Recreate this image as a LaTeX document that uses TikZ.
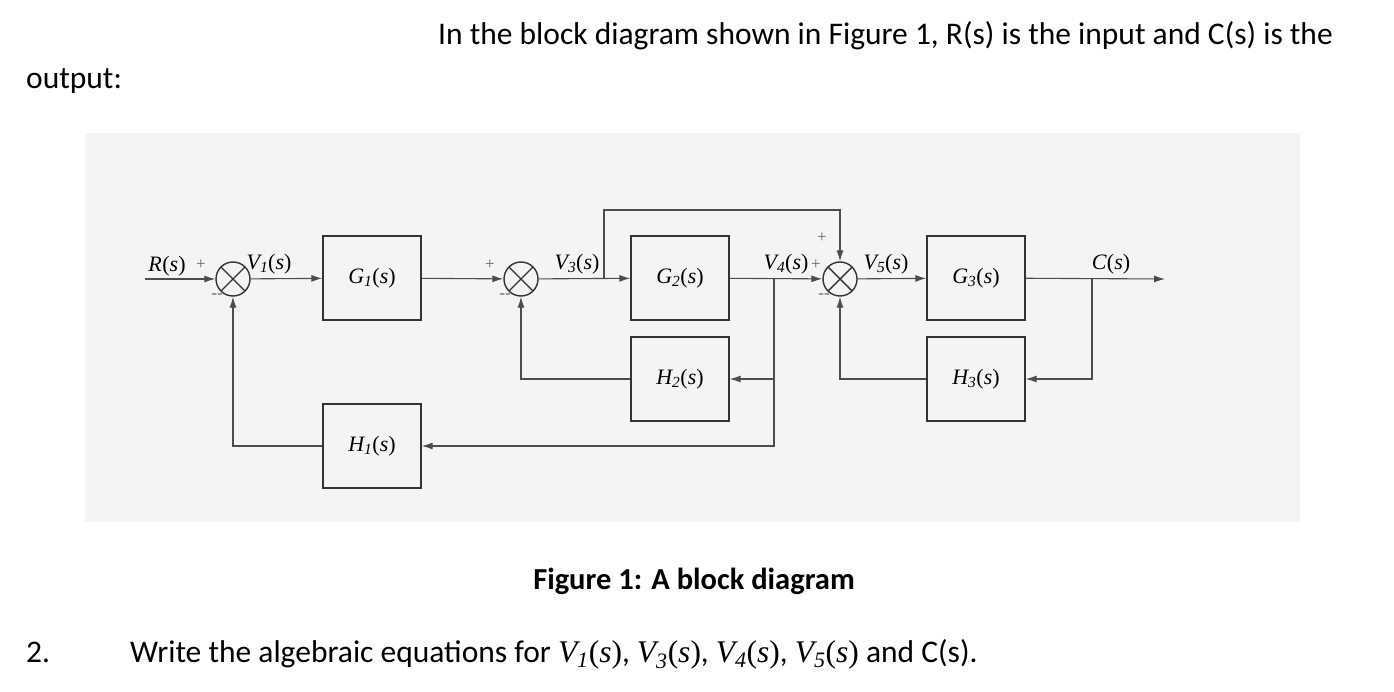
\documentclass[tikz,border=0pt]{standalone}
\usepackage{fontspec}
\setmainfont{Carlito}
\newfontfamily\serifit{Liberation Serif}
\usetikzlibrary{arrows.meta}
\newcommand{\lb}[2]{{\serifit\itshape #1\textsubscript{#2}}{\serifit(\itshape s\/\upshape)}}
\newcommand{\mv}[1]{{\serifit\itshape V\textsubscript{#1}\upshape(\itshape s\/\upshape)}}
\begin{document}
\begin{tikzpicture}[x=1pt,y=-1pt,
  blk/.style={draw=black!80,line width=1.4pt,minimum width=98pt,minimum height=84pt,inner sep=0pt,font=\fontsize{22}{22}\selectfont},
  sum/.style={draw=black!80,line width=1.4pt,circle,minimum size=34pt,inner sep=0pt,path picture={\draw[line width=1.4pt,black!80] (path picture bounding box.north west)--(path picture bounding box.south east) (path picture bounding box.north east)--(path picture bounding box.south west);}},
  ln/.style={draw=black!70,line width=1.1pt},
  ar/.style={ln,-{Latex[length=11pt,width=7pt]}},
  lab/.style={font=\fontsize{22}{22}\selectfont,inner sep=1pt},
  sg/.style={font=\serifit\fontsize{17}{17}\selectfont,inner sep=0pt,text=black!60},
  txt/.style={font=\fontsize{31.5}{31.5}\selectfont,inner sep=0pt}]
\useasboundingbox (0,0) rectangle (1394,692);
\fill[white] (0,0) rectangle (1394,692);
\fill[blue!4!gray!8] (85,133) rectangle (1300,522);
\node[txt,anchor=base west] (t1) at (438,45) {In the block diagram shown in Figure 1, R(s) is the input and C(s) is the};
\node[txt,anchor=base west] (t2) at (26,89) {output:};
\node[txt,anchor=base,font=\bfseries\fontsize{30.5}{30.5}\selectfont] (cap) at (694,589) {Figure 1: A block diagram};
\node[txt,anchor=base west] (n2) at (26,662) {2.};
\node[txt,anchor=base west] (q) at (130,662) {Write the  algebraic equations  for \mv{1}, \mv{3}, \mv{4}, \mv{5}  and C(s).};

\node[sum] (s1) at (233,279) {};
\node[sum] (s2) at (521,279) {};
\node[sum] (s3) at (840,279) {};
\node[blk] (g1) at (372,278) {\lb{G}{1}};
\node[blk] (g2) at (680,278) {\lb{G}{2}};
\node[blk] (g3) at (976,278) {\lb{G}{3}};
\node[blk] (h2) at (680,379) {\lb{H}{2}};
\node[blk] (h3) at (976,379) {\lb{H}{3}};
\node[blk] (h1) at (372,446) {\lb{H}{1}};
\coordinate (in) at (145,279);
\coordinate (out) at (1165,279);
\coordinate (b3) at (604,279);
\coordinate (b4) at (774,279);
\coordinate (bc) at (1092,279);

\draw[ar] (in) -- (s1);
\draw[ar] (s1) -- (g1);
\draw[ar] (g1) -- (s2);
\draw[ar] (s2) -- (g2);
\draw[ar] (g2) -- (s3);
\draw[ar] (s3) -- (g3);
\draw[ar] (g3) -- (out);
\draw[ar] (b3) |- (710,210) -| (s3.north);
\draw[ar] (bc) |- (h3.east);
\draw[ar] (h3.west) -| (s3.south);
\draw[ar] (b4) |- (h1.east);
\draw[ar] (774,379) -- (h2.east);
\draw[ar] (h2.west) -| (s2.south);
\draw[ar] (h1.west) -| (s1.south);

\node[lab] at (167,266) {\lb{R}{}};
\node[lab] at (269,264) {\lb{V}{1}};
\node[lab] at (577,264) {\lb{V}{3}};
\node[lab] at (786,264) {\lb{V}{4}};
\node[lab] at (886,264) {\lb{V}{5}};
\node[lab] at (1111,264) {\lb{C}{}};
\node[sg] at (201,265) {+};
\node[sg] at (490,265) {+};
\node[sg] at (816,265) {+};
\node[sg] at (822,238) {+};
\node[sg] at (217,296) {--};
\node[sg] at (505,296) {--};
\node[sg] at (824,296) {--};
\end{tikzpicture}
\end{document}
